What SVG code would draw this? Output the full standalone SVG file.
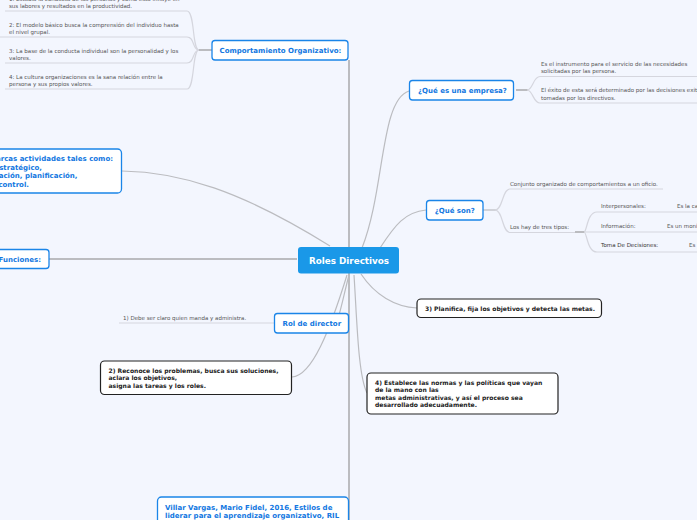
<svg xmlns="http://www.w3.org/2000/svg" width="697" height="520" viewBox="0 0 697 520">
<style>
text{font-family:"DejaVu Sans","Liberation Sans",sans-serif}
.b{fill:#fff;stroke:#1a85e8;stroke-width:1.3}
.k{fill:#fff;stroke:#222;stroke-width:1.2}
.bt{font-size:7px;font-weight:700;fill:#1277e1}
.kt{font-size:6.05px;font-weight:700;fill:#222}
.s{font-size:5.5px;fill:#555}
.c{fill:none;stroke:#bbbcc0;stroke-width:1.2}
.t{fill:none;stroke:#bbbcc0;stroke-width:2}
.u{fill:none;stroke:#d5d6de;stroke-width:1.2}
.e{text-anchor:end}
</style>
<rect width="697" height="520" fill="#f3f6fe"/>
<g id="connectors">
<path class="t" d="M349 60V520"/>
<path class="c" d="M122 171C180 172 240 190 330 246"/>
<path class="t" d="M49 259H297"/>
<path class="c" d="M292 377C312 376 330 330 347 275"/>
<path class="c" d="M349 275C345 290 342 305 339 315"/>
<path class="c" d="M361 274C375 295 395 307 417 308"/>
<path class="c" d="M354 275C357 320 358 375 367 393"/>
<path class="c" d="M362 248C385 190 380 100 409 91"/>
<path class="c" d="M380 248C395 225 405 212 426 210"/>
<path class="t" d="M199 50H212"/>
<path class="u" d="M5 11H187C195 11 192 50 199 50"/>
<path class="u" d="M0 37H187C195 37 192 50 199 50"/>
<path class="u" d="M5 63H187C195 63 192 50 199 50"/>
<path class="u" d="M5 89H187C195 89 192 50 199 50"/>
<path class="u" d="M119 323H274"/>
<path class="t" d="M516 90H528"/>
<path class="u" d="M697 76.500H540C533 76.500 533 90 527 90"/>
<path class="u" d="M697 103H540C533 103 533 90 527 90"/>
<path class="c" d="M483 210H496"/>
<path class="u" d="M663 189H510C502 189 503 210 495 210"/>
<path class="u" d="M585 232.500H510C502 232.500 503 210 495 210"/>
<path class="t" d="M575 232H585"/>
<path class="u" d="M697 212H597C587 212 587 232 584 232"/>
<path class="u" d="M697 232H584"/>
<path class="u" d="M697 252H597C587 252 587 232 584 232"/>
</g>
<g id="n-comportamiento">
<rect class="b" x="212" y="40.500" width="136" height="19.500" rx="3"/>
<text class="bt" x="219.500" y="53">Comportamiento Organizativo:</text>
</g>
<g id="n-c1"><text class="s" x="9" y="1">1: Estudia la conducta de las personas y como esta influye en</text><text class="s" x="9" y="7.800">sus labores y resultados en la productividad.</text></g>
<g id="n-c2"><text class="s" x="9" y="26.500">2: El modelo básico busca la comprensión del individuo hasta</text><text class="s" x="9" y="33.500">el  nivel grupal.</text></g>
<g id="n-c3"><text class="s" x="9" y="52.500">3: La base de la conducta individual son la personalidad y los</text><text class="s" x="9" y="59.500">valores.</text></g>
<g id="n-c4"><text class="s" x="9" y="78.500">4: La cultura organizaciones es la sana relación entre la</text><text class="s" x="9" y="85.500">persona y sus propios valores.</text></g>
<g id="n-abarcas">
<rect class="b" x="-30" y="149" width="151.500" height="44" rx="4"/>
<text class="bt e" x="113" y="161">Abarcas actividades tales como:</text>
<text class="bt e" x="42" y="170">Plan estratégico,</text>
<text class="bt e" x="77.500" y="178">Organización, planificación,</text>
<text class="bt e" x="29" y="187">Mando y control.</text>
</g>
<g id="n-funciones">
<rect class="b" x="-20" y="249.500" width="69" height="19" rx="3"/>
<text class="bt e" x="41" y="262">Funciones:</text>
</g>
<g id="n-root">
<rect x="298" y="247" width="101" height="26.500" rx="3" fill="#1a98e8"/>
<text x="349" y="263.500" text-anchor="middle" font-size="8.800" font-weight="700" fill="#fff">Roles Directivos</text>
</g>
<g id="n-rol">
<rect class="b" x="274.500" y="313.500" width="74" height="19.500" rx="3"/>
<text class="bt" x="282.500" y="326">Rol de director</text>
</g>
<g id="n-debe"><text class="s" x="123" y="319.800">1) Debe ser claro quien manda y administra.</text></g>
<g id="n-2">
<rect class="k" x="100.500" y="361" width="191" height="33.500" rx="4"/>
<text class="kt" x="108.500" y="372.500">2) Reconoce los problemas, busca sus soluciones,</text>
<text class="kt" x="108.500" y="379.800">aclara los objetivos,</text>
<text class="kt" x="108.500" y="388">asigna las tareas y los roles.</text>
</g>
<g id="n-3">
<rect class="k" x="417" y="299" width="184.500" height="18.500" rx="4"/>
<text class="kt" x="425" y="310.500">3) Planifica, fija los objetivos y detecta las metas.</text>
</g>
<g id="n-4">
<rect class="k" x="367" y="373" width="191" height="41" rx="4"/>
<text class="kt" x="375" y="384.500">4) Establece las normas y las políticas que vayan</text>
<text class="kt" x="375" y="392">de la mano con las</text>
<text class="kt" x="375" y="399.500">metas administrativas, y así el proceso sea</text>
<text class="kt" x="375" y="407">desarrollado adecuadamente.</text>
</g>
<g id="n-villar">
<rect class="b" x="157.500" y="497" width="191" height="40" rx="4"/>
<text class="bt" x="165" y="510">Villar Vargas, Mario Fidel, 2016, Estilos de</text>
<text class="bt" x="165" y="518">liderar para el aprendizaje organizativo, RIL</text>
</g>
<g id="n-empresa">
<rect class="b" x="409.500" y="80.500" width="104" height="19.500" rx="3"/>
<text class="bt" x="418" y="93">¿Qué es una empresa?</text>
</g>
<g id="n-e1"><text class="s" x="541" y="66">Es el instrumento para el servicio de las necesidades</text><text class="s" x="541" y="73">solicitadas por las persona.</text></g>
<g id="n-e2"><text class="s" x="541" y="92">El éxito de esta será determinado por las decisiones exitosas</text><text class="s" x="541" y="99.500">tomadas por los directivos.</text></g>
<g id="n-son">
<rect class="b" x="426.500" y="200.500" width="56.500" height="19.500" rx="3"/>
<text class="bt" x="454.750" y="213" text-anchor="middle">¿Qué son?</text>
</g>
<g id="n-s1"><text class="s" x="510" y="185.500">Conjunto organizado de comportamientos a un oficio.</text></g>
<g id="n-s2"><text class="s" x="510" y="228.500">Los hay de tres tipos:</text></g>
<g id="n-t1"><text class="s" x="601" y="208">Interpersonales:</text><text class="s" x="677" y="208">Es la ca</text></g>
<g id="n-t2"><text class="s" x="601" y="228">Información:</text><text class="s" x="667" y="228">Es un moni</text></g>
<g id="n-t3"><text class="s" x="601" y="247" style="fill:#333">Toma De Decisiones:</text><text class="s" x="689" y="247">Es</text></g>
</svg>
